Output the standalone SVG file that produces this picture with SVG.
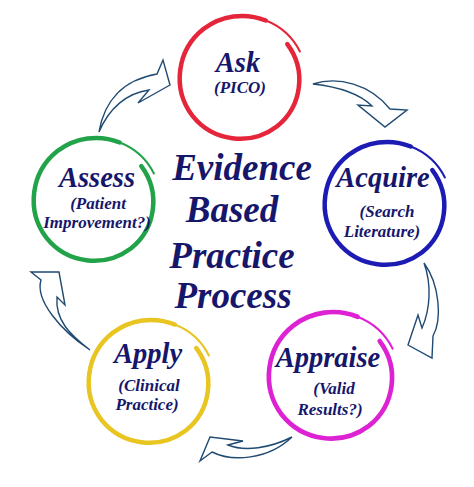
<svg xmlns="http://www.w3.org/2000/svg" xmlns:xlink="http://www.w3.org/1999/xlink" width="474" height="487" viewBox="0 0 474 487">
<style>
.ring{fill:none;stroke-width:4.5;stroke-linecap:round}
.tail{fill:none;stroke-width:2;stroke-linecap:round}
.t{font-family:"Liberation Serif","Times New Roman",serif;font-style:italic;font-weight:bold;fill:#16166b;text-anchor:middle}
.h{font-size:28.5px}
.s{font-size:17px}
.big{font-size:37px}
.arr{fill:#fff;stroke:#1f4a72;stroke-width:1.4;stroke-linejoin:miter}
</style>
<defs>
<g id="spiral">
<path class="ring" d="M46.3,-34.9 A59.5,59.5 0 0 1 35.8,47.5 A61,61 0 0 1 -48.7,36.7 A62.5,62.5 0 0 1 -37.6,-49.9 A63.5,63.5 0 0 1 24.8,-58.5"/>
<path class="tail" d="M24.8,-58.5 A64,64 0 0 1 58.9,-27.5"/>
</g>
</defs>
<rect width="474" height="487" fill="#fff"/>
<g id="connectors">
<path class="arr" d="M99,132 C104,102 122,80 157,74 L163,60 L170,85 L138,103 L149,90 C127,93 109,108 99,132 Z"/>
<path class="arr" d="M313,84 C338,76 370,84 390,109 L407,110 L385,127 L358,105 L372,106 C360,94 340,87 313,84 Z"/>
<path class="arr" d="M424,263 C440,285 442,320 433,336 L432,358 L408,345 L418,315 L422,328 C430,310 432,285 424,263 Z"/>
<path class="arr" d="M292,437 C270,448 245,452 228,445 L243,441 L210,437 L200,461 L212,452 C232,462 268,460 292,437 Z"/>
<path class="arr" d="M90,350 C60,330 35,300 41,280 L31,272 L59,272 L65,305 L57,297 C55,320 70,335 90,350 Z"/>
</g>
<g id="ask">
<use xlink:href="#spiral" transform="translate(241,79)" stroke="#e5253a"/>
<text class="t h" x="238" y="72">Ask</text>
<text class="t s" x="240" y="93">(PICO)</text>
</g>
<g id="acquire">
<use xlink:href="#spiral" transform="translate(386,205)" stroke="#1c1cb4"/>
<text class="t h" x="383" y="187">Acquire</text>
<text class="t s" x="387" y="217">(Search</text>
<text class="t s" x="382" y="237">Literature)</text>
</g>
<g id="assess">
<use xlink:href="#spiral" transform="translate(95,201)" stroke="#22a34a"/>
<text class="t h" x="97" y="187">Assess</text>
<text class="t s" x="98" y="209">(Patient</text>
<text class="t s" x="97" y="228">Improvement?)</text>
</g>
<g id="apply">
<use xlink:href="#spiral" transform="translate(150,383)" stroke="#e8c520"/>
<text class="t h" x="148" y="363">Apply</text>
<text class="t s" x="149" y="391">(Clinical</text>
<text class="t s" x="147" y="410">Practice)</text>
</g>
<g id="appraise">
<use xlink:href="#spiral" transform="translate(332,377) scale(1.03)" stroke="#dd22d4"/>
<text class="t h" x="328" y="367">Appraise</text>
<text class="t s" x="334" y="394">(Valid</text>
<text class="t s" x="330" y="415">Results?)</text>
</g>
<g id="title">
<text class="t big" x="242" y="180">Evidence</text>
<text class="t big" x="232" y="222">Based</text>
<text class="t big" x="232" y="268">Practice</text>
<text class="t big" x="233" y="308">Process</text>
</g>
</svg>
